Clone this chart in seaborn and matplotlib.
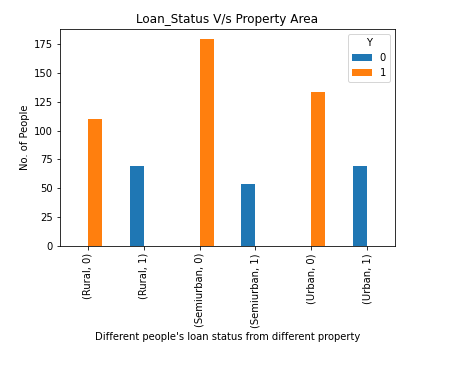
import pandas as pd
import matplotlib
matplotlib.use("Agg")
import matplotlib.pyplot as plt
import seaborn as sns

# Counts
categories = ['(Rural, 0)', '(Rural, 1)', '(Semiurban, 0)', '(Semiurban, 1)', '(Urban, 0)', '(Urban, 1)']
hue_y = ['1', '0', '1', '0', '1', '0']
counts = [110, 69, 179, 54, 133, 69]

df = pd.DataFrame({'group': categories, 'Y': hue_y, 'count': counts})

plt.rcParams['font.family'] = 'DejaVu Sans'
plt.rcParams['font.size'] = 10

fig = plt.figure(figsize=(450 / 72, 368 / 72), dpi=72)
ax = fig.add_axes([60 / 450, 1 - 246 / 368, 335 / 450, 217 / 368])

# dodge=True keeps the empty slot for the missing Y level, like pandas' bar plot
sns.barplot(data=df, x='group', y='count', hue='Y', hue_order=['0', '1'],
            order=categories, palette=['#1f77b4', '#ff7f0e'],
            width=0.5, dodge=True, saturation=1, errorbar=None, ax=ax)

ax.set_xlim(-0.5, 5.5)
ax.set_ylim(0, max(counts) * 1.05)
ax.tick_params(axis='x', rotation=90)
ax.set_title('Loan_Status V/s Property Area')
ax.set_xlabel("Different people's loan status from different property")
ax.set_ylabel('No. of People')
ax.legend(title='Y', loc='upper right')

fig.savefig('out.png', dpi=72)
